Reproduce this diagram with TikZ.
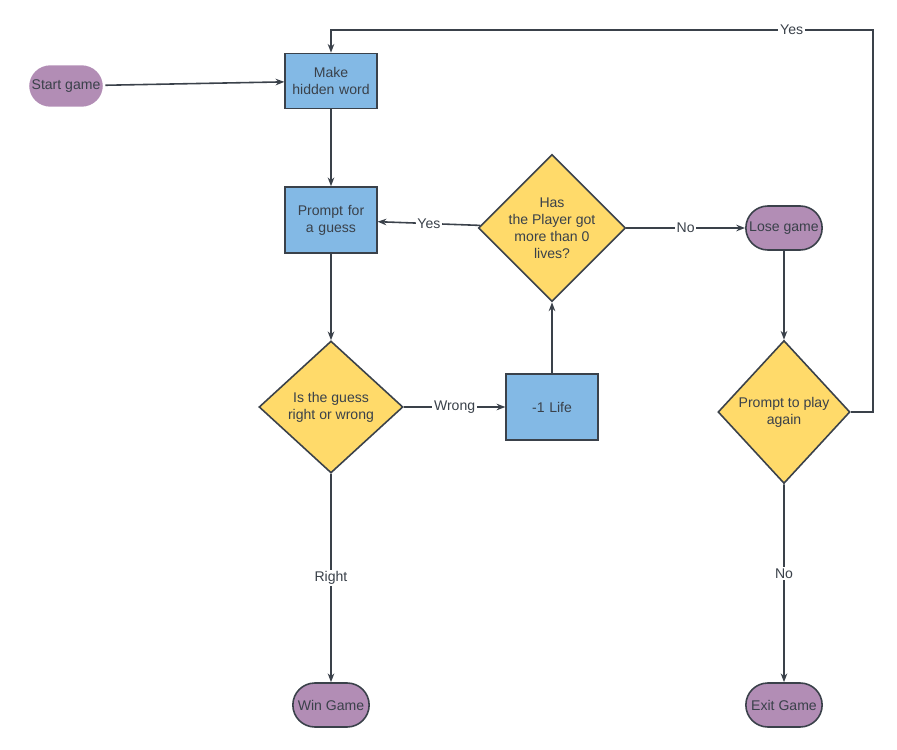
\documentclass[tikz,border=0pt]{standalone}
\usepackage{fontspec}
\setmainfont{Liberation Sans}
\usetikzlibrary{positioning, arrows.meta, shapes}
\definecolor{boxblue}{HTML}{83B9E5}
\definecolor{gold}{HTML}{FFDA6A}
\definecolor{mauve}{HTML}{B28DB5}
\definecolor{ink}{HTML}{3A414A}

\begin{document}
\begin{tikzpicture}[
        x=0.02cm, y=-0.02cm,
        font=\fontsize{8}{9.6}\selectfont\color{ink},
        every node/.style={text=ink},
        task/.style={rectangle, draw=ink, line width=0.9pt, fill=boxblue, minimum width=1.76cm, align=center, text width=1.6cm},
        ends/.style={rounded rectangle, draw=ink, line width=0.9pt, fill=mauve, minimum width=1.76cm, minimum height=0.88cm},
        choice/.style={diamond, draw=ink, line width=0.9pt, fill=gold, inner sep=0pt, align=center},
        link/.style={draw=ink, line width=0.9pt, -{Stealth[length=5pt]}},
        tag/.style={fill=white, inner sep=1pt}
    ]
    \useasboundingbox (0,0) rectangle (897,750);

    \node[ends, draw=white, line width=1.5pt] (start) at (66,86) {Start game};
    \node[task, minimum height=1.1cm] (hidden) at (331,81) {Make\\hidden word};
    \node[task, minimum height=1.32cm] (prompt) at (331,220) {Prompt for a guess};
    \node[choice, minimum width=2.88cm, minimum height=2.12cm] (lives) at (552,228) {Has\\the Player got\\more than 0\\lives?};
    \node[ends] (lose) at (784,228) {Lose game};
    \node[choice, minimum width=2.88cm, minimum height=2.64cm] (check) at (331,407) {Is the guess\\right or wrong};
    \node[task, minimum height=1.32cm] (life) at (552,407) {-1 Life};
    \node[choice, minimum width=2.64cm, minimum height=2.86cm] (again) at (784,412) {Prompt to play\\again};
    \node[ends] (win) at (331,705) {Win Game};
    \node[ends] (exit) at (784,705) {Exit Game};
    \coordinate (c1) at (873,412);
    \coordinate (c2) at (873,30);
    \coordinate (c3) at (331,30);

    \draw[link] (start) -- (hidden);
    \draw[link] (hidden) -- (prompt);
    \draw[link] (prompt) -- (check);
    \draw[link] (check) -- node[tag] {Wrong} (life);
    \draw[link] (life) -- (lives);
    \draw[link] (lives) -- node[tag] {Yes} (prompt);
    \draw[link] (lives) -- node[tag] {No} (lose);
    \draw[link] (lose) -- (again);
    \draw[link] (check) -- node[tag] {Right} (win);
    \draw[link] (again) -- node[tag, pos=0.45] {No} (exit);
    \draw[link] (again.east) -- (c1) -- (c2) -- node[tag, pos=0.15] {Yes} (c3) -- (hidden);
\end{tikzpicture}
\end{document}
